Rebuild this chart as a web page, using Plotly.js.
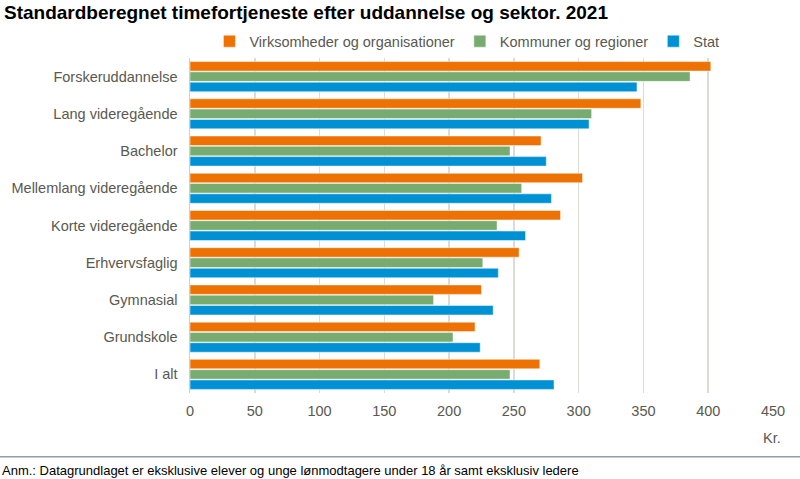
<!DOCTYPE html>
<html>
<head>
<meta charset="utf-8">
<script src="https://cdn.plot.ly/plotly-3.0.1.min.js"></script>
<style>
  body { margin: 0; background: #fff; }
  #graph { width: 800px; height: 479px; }
</style>
</head>
<body>
<div id="graph"></div>
<script>
// uddannelser, top til bund
var categories = ['Forskeruddannelse', 'Lang videregående', 'Bachelor', 'Mellemlang videregående',
    'Korte videregående', 'Erhvervsfaglig', 'Gymnasial', 'Grundskole', 'I alt'];

// kr. pr. time
var virksomheder = [402, 348, 271, 303, 286, 254, 225, 220, 270];
var kommuner = [386, 310, 247, 256, 237, 226, 188, 203, 247];
var stat = [345, 308, 275, 279, 259, 238, 234, 224, 281];

var xTicks = [0, 50, 100, 150, 200, 250, 300, 350, 400, 450];

var txtColor = '#595950';
var font = 'Liberation Sans, Arial, sans-serif';

function serie(name, values, color) {
    return {
        type: 'bar',
        orientation: 'h',
        name: name,
        y: categories,
        x: values,
        marker: {color: color, line: {color: 'rgba(255,255,255,0.6)', width: 0.8}},
        hoverinfo: 'x+name'
    };
}

var data = [
    serie('Virksomheder og organisationer', virksomheder, '#EE7203'),
    serie('Kommuner og regioner', kommuner, '#78AB6F'),
    serie('Stat', stat, '#0091D4')
];

var layout = {
    width: 800,
    height: 479,
    margin: {l: 190, r: 27, t: 58, b: 86},
    paper_bgcolor: '#fff',
    plot_bgcolor: '#fff',
    barmode: 'group',
    bargap: 0.17,
    bargroupgap: 0.08,
    font: {family: font, size: 14.5, color: txtColor},
    title: {
        text: '<b>Standardberegnet timefortjeneste efter uddannelse og sektor. 2021</b>',
        font: {family: font, size: 19, color: '#000'},
        x: 0.005, xanchor: 'left', y: 0.974, yanchor: 'middle'
    },
    showlegend: true,
    legend: {
        orientation: 'h',
        x: 0.475, xanchor: 'center',
        y: 1.05, yanchor: 'middle',
        font: {family: font, size: 14.5, color: txtColor},
        traceorder: 'normal',
        itemwidth: 30
    },
    xaxis: {
        range: [0, 450],
        tickvals: xTicks,
        showgrid: true,
        gridcolor: '#dcdcd6',
        gridwidth: 1.5,
        zeroline: false,
        showline: false,
        ticks: '',
        ticklabelstandoff: 7,
        tickfont: {family: font, size: 14.5, color: txtColor},
        fixedrange: true
    },
    yaxis: {
        autorange: 'reversed',
        showline: true,
        linecolor: '#d0d0ca',
        linewidth: 1.5,
        ticks: '',
        ticksuffix: '  ',
        tickfont: {family: font, size: 14.5, color: txtColor},
        fixedrange: true
    },
    shapes: [{
        type: 'line', xref: 'paper', yref: 'paper',
        x0: -0.33, x1: 1.05, y0: -0.19, y1: -0.19,
        line: {color: '#8f9ea8', width: 1.5}
    }],
    annotations: [{
        text: 'Kr.', xref: 'paper', yref: 'paper',
        x: 1.018, y: -0.135, xanchor: 'right', yanchor: 'middle',
        showarrow: false, font: {family: font, size: 14.5, color: txtColor}
    }, {
        text: 'Anm.: Datagrundlaget er eksklusive elever og unge lønmodtagere under 18 år samt eksklusiv ledere',
        xref: 'paper', yref: 'paper',
        x: -0.326, y: -0.232, xanchor: 'left', yanchor: 'middle',
        showarrow: false, font: {family: font, size: 13, color: '#000'}
    }]
};

Plotly.newPlot('graph', data, layout, {displayModeBar: false, staticPlot: true});
</script>
</body>
</html>
